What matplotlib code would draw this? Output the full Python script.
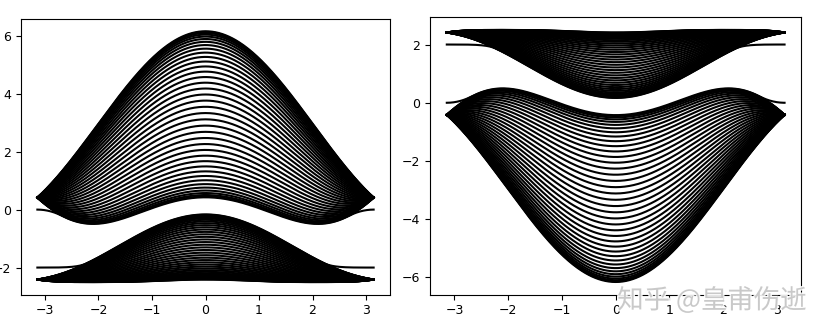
import numpy as np
import matplotlib
matplotlib.use('Agg')
import matplotlib.pyplot as plt
import matplotlib.patheffects as pe

# zigzag graphene ribbon, NN hopping t, NNN hopping t2, staggered mass m
t = 1.0
mass = 1.0
t2_left = 0.5
t2_right = -0.5
n_cells = 40
k = np.linspace(-np.pi, np.pi, 301)


def ribbon_bands(t, t2, m, n, kk):
    bands = []
    for kx in kk:
        c = np.cos(kx / 2)
        H = np.zeros((2 * n, 2 * n))
        for i in range(n):
            a, b = 2 * i, 2 * i + 1
            H[a, a] = m + 2 * t2 * np.cos(kx)
            H[b, b] = -m + 2 * t2 * np.cos(kx)
            H[a, b] = H[b, a] = 2 * t * c
            if i < n - 1:
                a2, b2 = 2 * (i + 1), 2 * (i + 1) + 1
                H[b, a2] = H[a2, b] = t
                H[a, a2] = H[a2, a] = 2 * t2 * c
                H[b, b2] = H[b2, b] = 2 * t2 * c
        bands.append(np.linalg.eigvalsh(H))
    return np.array(bands)


fig = plt.figure(figsize=(8.22, 3.34), dpi=100)
ax1 = fig.add_axes([0.025, 0.118, 0.450, 0.826])
ax2 = fig.add_axes([0.523, 0.118, 0.452, 0.830])

E1 = ribbon_bands(t, t2_left, mass, n_cells, k)
E2 = ribbon_bands(t, t2_right, mass, n_cells, k)
for i in range(E1.shape[1]):
    ax1.plot(k, E1[:, i], 'k')
for i in range(E2.shape[1]):
    ax2.plot(k, E2[:, i], 'k')

for ax in (ax1, ax2):
    ax.tick_params(labelsize=9)

fig.text(0.866, 0.10, '知乎 @皇甫伤逝', family=['Noto Sans CJK SC', 'DejaVu Sans'],
         fontsize=19, color='#c4c4c4', alpha=0.9, ha='center', va='center',
         path_effects=[pe.withStroke(linewidth=2, foreground='white')])

fig.savefig('out.png', dpi=100)
